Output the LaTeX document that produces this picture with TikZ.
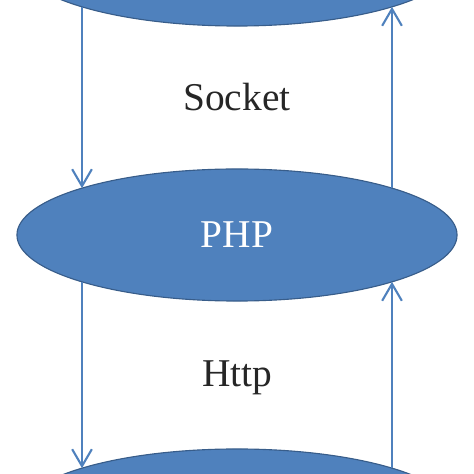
\documentclass[tikz,border=0pt]{standalone}
\usepackage{fontspec}
\setmainfont{Liberation Serif}
\usetikzlibrary{shapes.geometric,arrows.meta}
\definecolor{boxblue}{HTML}{4F81BD}
\definecolor{edgeblue}{HTML}{385D8A}
\begin{document}
\begin{tikzpicture}[x=0.025cm,y=0.025cm,
	layer/.style={ellipse,fill=boxblue,draw=edgeblue,line width=0.8pt,
		minimum width=11cm,minimum height=3.3cm,inner sep=0pt,
		text=white,font=\fontsize{28}{34}\selectfont},
	flow/.style={draw=boxblue,line width=1.5pt,-{Straight Barb[length=12pt,width=14pt]}},
	label/.style={text=black!85,font=\fontsize{28}{34}\selectfont}]
	
	\useasboundingbox (0,0) rectangle (474,474);
	\clip (0,0) rectangle (474,474);
	
	% three layers, top and bottom cut by the frame
	\node[layer] (top) at (237,514) {};
	\node[layer] (php) at (237,239) {PHP};
	\node[layer] (bottom) at (237,-41) {};
	
	% requests down on the left, answers up on the right
	\draw[flow] ([shift={(-155,-46.8)}]top.center) -- ([shift={(-155,46.8)}]php.center);
	\draw[flow] ([shift={(155,46.8)}]php.center) -- ([shift={(155,-46.8)}]top.center);
	\draw[flow] ([shift={(-155,-46.8)}]php.center) -- ([shift={(-155,46.8)}]bottom.center);
	\draw[flow] ([shift={(155,46.8)}]bottom.center) -- ([shift={(155,-46.8)}]php.center);
	
	\node[label] (sock) at (237,377) {Socket};
	\node[label] (http) at (237,96) {Http};
	
\end{tikzpicture}
\end{document}
